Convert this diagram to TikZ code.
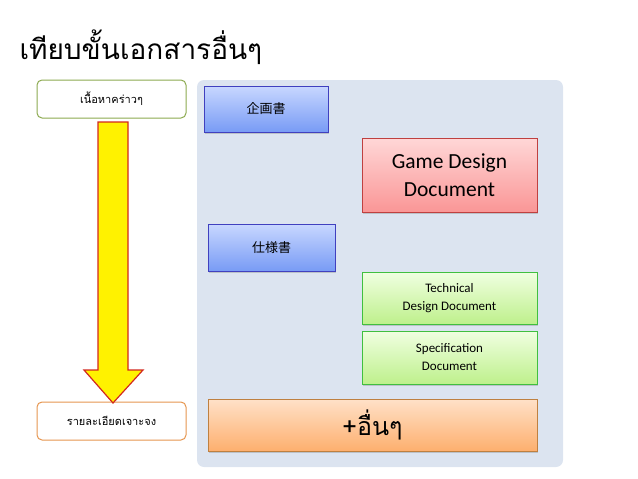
\documentclass[tikz,border=0pt]{standalone}
\usepackage{fontspec}
\setmainfont{Carlito}
\newfontfamily\thai[Script=Thai]{Loma}
\newfontfamily\cjk{Noto Sans CJK JP}
\usetikzlibrary{shadows}
\begin{document}
\begin{tikzpicture}[x=1pt,y=-1pt,
  lbox/.style={draw,rounded corners=5pt,line width=1pt,fill=white,inner sep=0pt},
  doc/.style={draw=#1!50!gray,line width=0.5pt,drop shadow={shadow xshift=1pt,shadow yshift=-1.5pt,opacity=0.35},inner sep=0pt,align=center}]
\useasboundingbox (0,0) rectangle (638,479);
\node[anchor=west,font=\thai\fontsize{28}{32}\selectfont] (title) at (16,47) {เทียบขั้นเอกสารอื่นๆ};
\fill[rounded corners=7pt,fill={rgb,255:red,220;green,228;blue,240}] (197,80) rectangle (563,467);
\node[lbox,draw={rgb,255:red,140;green,170;blue,80},minimum width=149pt,minimum height=38pt,font=\thai\fontsize{11}{13}\selectfont] (top) at (111.5,99) {เนื้อหาคร่าวๆ};
\node[lbox,draw={rgb,255:red,230;green,150;blue,80},minimum width=149pt,minimum height=38pt,font=\thai\fontsize{11}{13}\selectfont] (bot) at (111.5,421) {รายละเอียดเจาะจง};
\draw[fill=yellow,draw={rgb,255:red,210;green,40;blue,30},line width=1.2pt]
  (98,122) -- (128,122) -- (128,370) -- (143,370) -- (113,403) -- (84,370) -- (98,370) -- cycle;
\node[doc=blue,top color={rgb,255:red,200;green,215;blue,255},bottom color={rgb,255:red,120;green,155;blue,245},minimum width=124pt,minimum height=46pt,font=\cjk\fontsize{13}{15}\selectfont] (kika) at (266,109) {企画書};
\node[doc=red,top color={rgb,255:red,255;green,215;blue,215},bottom color={rgb,255:red,250;green,150;blue,150},minimum width=175pt,minimum height=74pt,font=\fontsize{21.5}{28}\selectfont] (gdd) at (449.5,175) {Game Design\\Document};
\node[doc=blue,top color={rgb,255:red,200;green,215;blue,255},bottom color={rgb,255:red,120;green,155;blue,245},minimum width=127pt,minimum height=47pt,font=\cjk\fontsize{13}{15}\selectfont] (shiyo) at (271.5,247.5) {仕様書};
\node[doc=green,top color={rgb,255:red,240;green,255;blue,225},bottom color={rgb,255:red,190;green,240;blue,140},minimum width=175pt,minimum height=52pt,font=\fontsize{13}{18}\selectfont] (tdd) at (449.5,298) {Technical\\Design Document};
\node[doc=green,top color={rgb,255:red,240;green,255;blue,225},bottom color={rgb,255:red,190;green,240;blue,140},minimum width=175pt,minimum height=53pt,font=\fontsize{13}{18}\selectfont] (spec) at (449.5,357.5) {Specification\\Document};
\node[doc=orange,top color={rgb,255:red,255;green,225;blue,200},bottom color={rgb,255:red,253;green,175;blue,110},minimum width=329pt,minimum height=52pt,font=\thai\fontsize{25}{28}\selectfont] (other) at (372.5,425) {+อื่นๆ};
\end{tikzpicture}
\end{document}
